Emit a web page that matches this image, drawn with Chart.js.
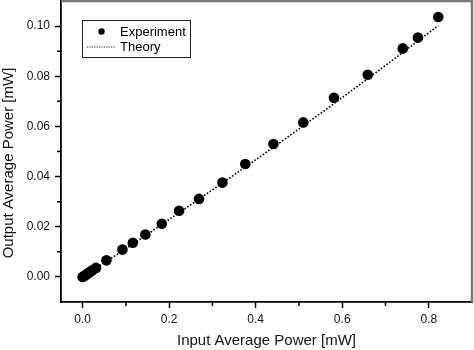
<!DOCTYPE html>
<html>
<head>
<meta charset="utf-8">
<script src="https://cdn.jsdelivr.net/npm/chart.js@4"></script>
<style>
  html, body { margin: 0; padding: 0; background: #fff; }
  #plot { display: block; }
</style>
</head>
<body>
<canvas id="plot" width="474" height="350"></canvas>
<script>
// data
const expX = [0, 0.004, 0.008, 0.012, 0.017, 0.022, 0.031, 0.055, 0.092, 0.116, 0.145, 0.183, 0.223, 0.269, 0.323, 0.376, 0.441, 0.510, 0.581, 0.659, 0.740, 0.775, 0.822];
const expY = [0, 0.0004, 0.0009, 0.0014, 0.0020, 0.0026, 0.0036, 0.0066, 0.0109, 0.0136, 0.0169, 0.0212, 0.0264, 0.0311, 0.0376, 0.0450, 0.0530, 0.0616, 0.0714, 0.0806, 0.0911, 0.0954, 0.1036];
const theoryX = [0, 0.1, 0.2, 0.3, 0.4, 0.5, 0.6, 0.7, 0.822];
const theoryY = [0, 0.0113, 0.0229, 0.0347, 0.0467, 0.0590, 0.0715, 0.0843, 0.1002];
const xTicks = [0, 0.2, 0.4, 0.6, 0.8];
const yTicks = [0, 0.02, 0.04, 0.06, 0.08, 0.10];
const xMinor = [0.1, 0.3, 0.5, 0.7];
const yMinor = [0.01, 0.03, 0.05, 0.07, 0.09];
const yTitle = 'Output Average Power [mW]';

const FONT = '"Liberation Sans", Arial, sans-serif';

const toPts = (xs, ys) => xs.map((x, i) => ({ x: x, y: ys[i] }));

// minor ticks, frame on top/right, y title and the boxed legend
const extras = {
  id: 'extras',
  afterDraw(chart) {
    const { ctx, chartArea: a, scales } = chart;
    ctx.save();
    ctx.strokeStyle = '#000';
    ctx.lineWidth = 1.5;
    ctx.beginPath();
    xMinor.forEach(v => {
      const px = scales.x.getPixelForValue(v);
      ctx.moveTo(px, a.bottom);
      ctx.lineTo(px, a.bottom + 4);
    });
    yMinor.forEach(v => {
      const py = scales.y.getPixelForValue(v);
      ctx.moveTo(a.left, py);
      ctx.lineTo(a.left - 4, py);
    });
    ctx.stroke();

    ctx.strokeStyle = '#777';
    ctx.lineWidth = 2.5;
    ctx.beginPath();
    ctx.moveTo(a.left, a.top);
    ctx.lineTo(a.right, a.top);
    ctx.lineTo(a.right, a.bottom);
    ctx.stroke();

    // y title sits a bit below the middle of the plot in the original
    ctx.save();
    ctx.translate(9, 163);
    ctx.rotate(-Math.PI / 2);
    ctx.fillStyle = '#111';
    ctx.font = '15px ' + FONT;
    ctx.textAlign = 'center';
    ctx.textBaseline = 'middle';
    ctx.fillText(yTitle, 0, 0);
    ctx.restore();

    // legend
    ctx.strokeStyle = '#222';
    ctx.lineWidth = 1;
    ctx.strokeRect(82.5, 20.5, 108, 37);
    ctx.fillStyle = '#000';
    ctx.beginPath();
    ctx.arc(101.5, 31.5, 3.2, 0, Math.PI * 2);
    ctx.fill();
    ctx.setLineDash([1.2, 1.2]);
    ctx.lineWidth = 1.2;
    ctx.beginPath();
    ctx.moveTo(87, 47);
    ctx.lineTo(115, 47);
    ctx.stroke();
    ctx.setLineDash([]);
    ctx.font = '13px ' + FONT;
    ctx.textBaseline = 'middle';
    ctx.textAlign = 'left';
    ctx.fillText(chart.data.datasets[0].label, 120, 32);
    ctx.fillText(chart.data.datasets[1].label, 120, 47);
    ctx.restore();
  }
};

new Chart(document.getElementById('plot'), {
  type: 'scatter',
  data: {
    datasets: [
      {
        label: 'Experiment',
        data: toPts(expX, expY),
        backgroundColor: '#000',
        borderColor: '#000',
        pointRadius: 5.3,
        pointBorderWidth: 0,
        showLine: false,
        order: 0
      },
      {
        label: 'Theory',
        data: toPts(theoryX, theoryY),
        type: 'line',
        borderColor: '#000',
        borderWidth: 1.6,
        borderDash: [1.6, 1.8],
        pointRadius: 0,
        fill: false,
        cubicInterpolationMode: 'monotone',
        order: 1
      }
    ]
  },
  options: {
    responsive: false,
    animation: false,
    layout: { autoPadding: false, padding: { top: 1, right: 2, left: 0, bottom: 0 } },
    plugins: { legend: { display: false }, tooltip: { enabled: false } },
    scales: {
      x: {
        type: 'linear',
        min: -0.05,
        max: 0.9,
        afterBuildTicks: s => { s.ticks = xTicks.map(v => ({ value: v })); },
        afterFit: s => { s.height = 48; s.paddingLeft = 0; s.paddingRight = 0; },
        grid: { drawOnChartArea: false, tickLength: 6, tickWidth: 1.5, tickColor: '#000' },
        border: { color: '#000', width: 1.8 },
        ticks: {
          color: '#111',
          padding: 4,
          maxRotation: 0,
          font: { family: FONT, size: 12 },
          callback: v => v.toFixed(1)
        },
        title: {
          display: true,
          text: 'Input Average Power [mW]',
          color: '#111',
          font: { family: FONT, size: 15 },
          padding: { top: 3, bottom: 0 }
        }
      },
      y: {
        type: 'linear',
        min: -0.01,
        max: 0.11,
        afterBuildTicks: s => { s.ticks = yTicks.map(v => ({ value: v })); },
        afterFit: s => { s.width = 61; s.paddingTop = 0; s.paddingBottom = 0; },
        grid: { drawOnChartArea: false, tickLength: 6, tickWidth: 1.5, tickColor: '#000' },
        border: { color: '#000', width: 1.8 },
        ticks: {
          color: '#111',
          padding: 5,
          font: { family: FONT, size: 12 },
          callback: v => v.toFixed(2)
        },
        title: { display: false }
      }
    }
  },
  plugins: [extras]
});
</script>
</body>
</html>
